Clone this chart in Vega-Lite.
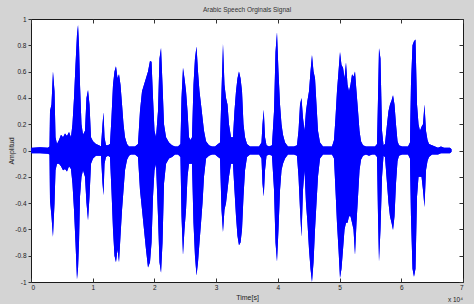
{
  "$schema": "https://vega.github.io/schema/vega-lite/v6.json",
  "width": 432,
  "height": 263,
  "autosize": {"type": "none"},
  "padding": {"left": 31, "top": 19, "right": 11, "bottom": 22},
  "background": "#d4d4d4",
  "title": {"text": "Arabic Speech Orginals Signal", "fontSize": 6.5, "font": "Liberation Sans", "fontWeight": "normal", "color": "#333333", "offset": 3},
  "config": {
    "view": {"fill": "white", "stroke": "#1a1a1a", "strokeWidth": 1},
    "axis": {"domain": false, "grid": false, "labelFont": "Liberation Sans", "labelFontSize": 6.5, "labelColor": "#222222", "tickColor": "#333333", "titleFont": "Liberation Sans", "titleFontSize": 7, "titleFontWeight": "normal", "titleColor": "#222222"}
  },
  "data": {"values": [
    {"t": 0.005, "hi": 0.02, "lo": -0.02},
    {"t": 0.032, "hi": 0.02, "lo": -0.02},
    {"t": 0.146, "hi": 0.025, "lo": -0.02},
    {"t": 0.275, "hi": 0.02, "lo": -0.025},
    {"t": 0.300, "hi": 0.03, "lo": -0.03},
    {"t": 0.308, "hi": 0.3, "lo": -0.38},
    {"t": 0.332, "hi": 0.35, "lo": -0.5},
    {"t": 0.356, "hi": 0.6, "lo": -0.655},
    {"t": 0.381, "hi": 0.45, "lo": -0.4},
    {"t": 0.397, "hi": 0.1, "lo": -0.15},
    {"t": 0.421, "hi": 0.05, "lo": -0.1},
    {"t": 0.454, "hi": 0.08, "lo": -0.1},
    {"t": 0.486, "hi": 0.12, "lo": -0.12},
    {"t": 0.519, "hi": 0.1, "lo": -0.15},
    {"t": 0.551, "hi": 0.13, "lo": -0.14},
    {"t": 0.583, "hi": 0.11, "lo": -0.16},
    {"t": 0.616, "hi": 0.14, "lo": -0.12},
    {"t": 0.648, "hi": 0.1, "lo": -0.14},
    {"t": 0.672, "hi": 0.2, "lo": -0.25},
    {"t": 0.697, "hi": 0.4, "lo": -0.45},
    {"t": 0.721, "hi": 0.65, "lo": -0.7},
    {"t": 0.745, "hi": 0.88, "lo": -0.98},
    {"t": 0.762, "hi": 0.955, "lo": -0.9},
    {"t": 0.778, "hi": 0.8, "lo": -0.7},
    {"t": 0.794, "hi": 0.5, "lo": -0.35},
    {"t": 0.818, "hi": 0.2, "lo": -0.2},
    {"t": 0.843, "hi": 0.12, "lo": -0.15},
    {"t": 0.875, "hi": 0.15, "lo": -0.2},
    {"t": 0.899, "hi": 0.4, "lo": -0.4},
    {"t": 0.924, "hi": 0.46, "lo": -0.53},
    {"t": 0.948, "hi": 0.35, "lo": -0.35},
    {"t": 0.972, "hi": 0.1, "lo": -0.1},
    {"t": 1.005, "hi": 0.07, "lo": -0.06},
    {"t": 1.053, "hi": 0.05, "lo": -0.04},
    {"t": 1.102, "hi": 0.04, "lo": -0.04},
    {"t": 1.134, "hi": 0.03, "lo": -0.04},
    {"t": 1.159, "hi": 0.2, "lo": -0.25},
    {"t": 1.175, "hi": 0.29, "lo": -0.34},
    {"t": 1.191, "hi": 0.1, "lo": -0.1},
    {"t": 1.215, "hi": 0.04, "lo": -0.05},
    {"t": 1.248, "hi": 0.04, "lo": -0.04},
    {"t": 1.280, "hi": 0.05, "lo": -0.05},
    {"t": 1.304, "hi": 0.25, "lo": -0.3},
    {"t": 1.329, "hi": 0.5, "lo": -0.6},
    {"t": 1.353, "hi": 0.6, "lo": -0.8},
    {"t": 1.377, "hi": 0.64, "lo": -0.85},
    {"t": 1.402, "hi": 0.55, "lo": -0.75},
    {"t": 1.426, "hi": 0.58, "lo": -0.85},
    {"t": 1.450, "hi": 0.5, "lo": -0.65},
    {"t": 1.475, "hi": 0.35, "lo": -0.45},
    {"t": 1.499, "hi": 0.2, "lo": -0.3},
    {"t": 1.523, "hi": 0.1, "lo": -0.15},
    {"t": 1.556, "hi": 0.05, "lo": -0.07},
    {"t": 1.588, "hi": 0.03, "lo": -0.04},
    {"t": 1.620, "hi": 0.03, "lo": -0.03},
    {"t": 1.685, "hi": 0.03, "lo": -0.03},
    {"t": 1.734, "hi": 0.05, "lo": -0.05},
    {"t": 1.766, "hi": 0.3, "lo": -0.3},
    {"t": 1.799, "hi": 0.45, "lo": -0.45},
    {"t": 1.831, "hi": 0.5, "lo": -0.6},
    {"t": 1.863, "hi": 0.55, "lo": -0.75},
    {"t": 1.896, "hi": 0.6, "lo": -0.89},
    {"t": 1.928, "hi": 0.68, "lo": -0.85},
    {"t": 1.953, "hi": 0.675, "lo": -0.7},
    {"t": 1.977, "hi": 0.4, "lo": -0.35},
    {"t": 2.001, "hi": 0.15, "lo": -0.15},
    {"t": 2.026, "hi": 0.1, "lo": -0.1},
    {"t": 2.058, "hi": 0.3, "lo": -0.5},
    {"t": 2.082, "hi": 0.7, "lo": -0.85},
    {"t": 2.107, "hi": 0.78, "lo": -0.93},
    {"t": 2.131, "hi": 0.5, "lo": -0.7},
    {"t": 2.155, "hi": 0.2, "lo": -0.25},
    {"t": 2.188, "hi": 0.1, "lo": -0.1},
    {"t": 2.236, "hi": 0.06, "lo": -0.06},
    {"t": 2.285, "hi": 0.04, "lo": -0.05},
    {"t": 2.333, "hi": 0.03, "lo": -0.03},
    {"t": 2.382, "hi": 0.03, "lo": -0.03},
    {"t": 2.422, "hi": 0.05, "lo": -0.05},
    {"t": 2.439, "hi": 0.4, "lo": -0.5},
    {"t": 2.463, "hi": 0.63, "lo": -0.795},
    {"t": 2.487, "hi": 0.55, "lo": -0.6},
    {"t": 2.512, "hi": 0.45, "lo": -0.45},
    {"t": 2.536, "hi": 0.3, "lo": -0.2},
    {"t": 2.560, "hi": 0.1, "lo": -0.1},
    {"t": 2.585, "hi": 0.08, "lo": -0.1},
    {"t": 2.609, "hi": 0.1, "lo": -0.1},
    {"t": 2.633, "hi": 0.5, "lo": -0.55},
    {"t": 2.657, "hi": 0.7, "lo": -0.8},
    {"t": 2.682, "hi": 0.79, "lo": -0.95},
    {"t": 2.706, "hi": 0.6, "lo": -0.85},
    {"t": 2.730, "hi": 0.45, "lo": -0.7},
    {"t": 2.755, "hi": 0.35, "lo": -0.55},
    {"t": 2.779, "hi": 0.25, "lo": -0.4},
    {"t": 2.803, "hi": 0.15, "lo": -0.2},
    {"t": 2.836, "hi": 0.07, "lo": -0.06},
    {"t": 2.884, "hi": 0.04, "lo": -0.04},
    {"t": 2.933, "hi": 0.03, "lo": -0.03},
    {"t": 2.982, "hi": 0.03, "lo": -0.03},
    {"t": 3.030, "hi": 0.05, "lo": -0.05},
    {"t": 3.063, "hi": 0.06, "lo": -0.06},
    {"t": 3.087, "hi": 0.45, "lo": -0.45},
    {"t": 3.111, "hi": 0.81, "lo": -0.62},
    {"t": 3.135, "hi": 0.5, "lo": -0.45},
    {"t": 3.160, "hi": 0.4, "lo": -0.4},
    {"t": 3.184, "hi": 0.35, "lo": -0.3},
    {"t": 3.208, "hi": 0.2, "lo": -0.2},
    {"t": 3.241, "hi": 0.1, "lo": -0.1},
    {"t": 3.273, "hi": 0.1, "lo": -0.1},
    {"t": 3.297, "hi": 0.3, "lo": -0.3},
    {"t": 3.322, "hi": 0.45, "lo": -0.5},
    {"t": 3.346, "hi": 0.55, "lo": -0.65},
    {"t": 3.370, "hi": 0.6, "lo": -0.72},
    {"t": 3.395, "hi": 0.55, "lo": -0.7},
    {"t": 3.419, "hi": 0.45, "lo": -0.6},
    {"t": 3.443, "hi": 0.2, "lo": -0.35},
    {"t": 3.468, "hi": 0.1, "lo": -0.15},
    {"t": 3.500, "hi": 0.05, "lo": -0.05},
    {"t": 3.549, "hi": 0.03, "lo": -0.03},
    {"t": 3.597, "hi": 0.03, "lo": -0.03},
    {"t": 3.646, "hi": 0.03, "lo": -0.03},
    {"t": 3.695, "hi": 0.03, "lo": -0.03},
    {"t": 3.735, "hi": 0.06, "lo": -0.06},
    {"t": 3.751, "hi": 0.2, "lo": -0.25},
    {"t": 3.771, "hi": 0.31, "lo": -0.35},
    {"t": 3.792, "hi": 0.1, "lo": -0.15},
    {"t": 3.816, "hi": 0.04, "lo": -0.04},
    {"t": 3.857, "hi": 0.03, "lo": -0.03},
    {"t": 3.905, "hi": 0.04, "lo": -0.04},
    {"t": 3.938, "hi": 0.3, "lo": -0.3},
    {"t": 3.962, "hi": 0.75, "lo": -0.7},
    {"t": 3.986, "hi": 0.9, "lo": -0.845},
    {"t": 4.010, "hi": 0.6, "lo": -0.6},
    {"t": 4.035, "hi": 0.35, "lo": -0.3},
    {"t": 4.059, "hi": 0.2, "lo": -0.15},
    {"t": 4.083, "hi": 0.12, "lo": -0.1},
    {"t": 4.116, "hi": 0.06, "lo": -0.06},
    {"t": 4.164, "hi": 0.03, "lo": -0.03},
    {"t": 4.213, "hi": 0.03, "lo": -0.03},
    {"t": 4.262, "hi": 0.03, "lo": -0.03},
    {"t": 4.310, "hi": 0.04, "lo": -0.04},
    {"t": 4.335, "hi": 0.15, "lo": -0.2},
    {"t": 4.359, "hi": 0.35, "lo": -0.45},
    {"t": 4.383, "hi": 0.4, "lo": -0.655},
    {"t": 4.407, "hi": 0.25, "lo": -0.3},
    {"t": 4.432, "hi": 0.15, "lo": -0.15},
    {"t": 4.456, "hi": 0.3, "lo": -0.4},
    {"t": 4.480, "hi": 0.38, "lo": -0.55},
    {"t": 4.505, "hi": 0.45, "lo": -0.75},
    {"t": 4.529, "hi": 0.6, "lo": -0.9},
    {"t": 4.553, "hi": 0.726, "lo": -1.0},
    {"t": 4.578, "hi": 0.6, "lo": -0.85},
    {"t": 4.602, "hi": 0.55, "lo": -0.6},
    {"t": 4.626, "hi": 0.35, "lo": -0.4},
    {"t": 4.650, "hi": 0.15, "lo": -0.2},
    {"t": 4.683, "hi": 0.06, "lo": -0.06},
    {"t": 4.732, "hi": 0.03, "lo": -0.03},
    {"t": 4.780, "hi": 0.03, "lo": -0.03},
    {"t": 4.829, "hi": 0.03, "lo": -0.03},
    {"t": 4.877, "hi": 0.03, "lo": -0.03},
    {"t": 4.910, "hi": 0.08, "lo": -0.06},
    {"t": 4.934, "hi": 0.25, "lo": -0.3},
    {"t": 4.958, "hi": 0.45, "lo": -0.55},
    {"t": 4.983, "hi": 0.6, "lo": -0.75},
    {"t": 5.007, "hi": 0.75, "lo": -0.97},
    {"t": 5.031, "hi": 0.65, "lo": -0.9},
    {"t": 5.056, "hi": 0.63, "lo": -0.75},
    {"t": 5.080, "hi": 0.55, "lo": -0.6},
    {"t": 5.104, "hi": 0.67, "lo": -0.55},
    {"t": 5.129, "hi": 0.5, "lo": -0.55},
    {"t": 5.153, "hi": 0.45, "lo": -0.5},
    {"t": 5.177, "hi": 0.5, "lo": -0.5},
    {"t": 5.202, "hi": 0.58, "lo": -0.55},
    {"t": 5.226, "hi": 0.56, "lo": -0.6},
    {"t": 5.250, "hi": 0.6, "lo": -0.795},
    {"t": 5.274, "hi": 0.45, "lo": -0.55},
    {"t": 5.299, "hi": 0.3, "lo": -0.35},
    {"t": 5.323, "hi": 0.15, "lo": -0.15},
    {"t": 5.347, "hi": 0.07, "lo": -0.07},
    {"t": 5.380, "hi": 0.04, "lo": -0.04},
    {"t": 5.428, "hi": 0.03, "lo": -0.03},
    {"t": 5.477, "hi": 0.03, "lo": -0.04},
    {"t": 5.526, "hi": 0.03, "lo": -0.03},
    {"t": 5.574, "hi": 0.03, "lo": -0.03},
    {"t": 5.607, "hi": 0.05, "lo": -0.05},
    {"t": 5.623, "hi": 0.4, "lo": -0.5},
    {"t": 5.639, "hi": 0.777, "lo": -0.845},
    {"t": 5.663, "hi": 0.7, "lo": -0.6},
    {"t": 5.688, "hi": 0.15, "lo": -0.2},
    {"t": 5.712, "hi": 0.04, "lo": -0.04},
    {"t": 5.736, "hi": 0.05, "lo": -0.05},
    {"t": 5.769, "hi": 0.2, "lo": -0.25},
    {"t": 5.793, "hi": 0.3, "lo": -0.4},
    {"t": 5.817, "hi": 0.35, "lo": -0.5},
    {"t": 5.842, "hi": 0.38, "lo": -0.55},
    {"t": 5.866, "hi": 0.42, "lo": -0.605},
    {"t": 5.890, "hi": 0.35, "lo": -0.5},
    {"t": 5.914, "hi": 0.2, "lo": -0.25},
    {"t": 5.939, "hi": 0.07, "lo": -0.08},
    {"t": 5.963, "hi": 0.04, "lo": -0.04},
    {"t": 6.012, "hi": 0.03, "lo": -0.03},
    {"t": 6.060, "hi": 0.03, "lo": -0.03},
    {"t": 6.109, "hi": 0.03, "lo": -0.03},
    {"t": 6.141, "hi": 0.06, "lo": -0.06},
    {"t": 6.157, "hi": 0.5, "lo": -0.5},
    {"t": 6.182, "hi": 0.8, "lo": -0.9},
    {"t": 6.206, "hi": 0.83, "lo": -0.96},
    {"t": 6.230, "hi": 0.845, "lo": -0.9},
    {"t": 6.255, "hi": 0.35, "lo": -0.35},
    {"t": 6.279, "hi": 0.2, "lo": -0.2},
    {"t": 6.303, "hi": 0.15, "lo": -0.2},
    {"t": 6.328, "hi": 0.18, "lo": -0.2},
    {"t": 6.352, "hi": 0.2, "lo": -0.3},
    {"t": 6.376, "hi": 0.35, "lo": -0.43},
    {"t": 6.400, "hi": 0.15, "lo": -0.15},
    {"t": 6.425, "hi": 0.08, "lo": -0.08},
    {"t": 6.449, "hi": 0.05, "lo": -0.05},
    {"t": 6.498, "hi": 0.04, "lo": -0.03},
    {"t": 6.546, "hi": 0.03, "lo": -0.03},
    {"t": 6.595, "hi": 0.02, "lo": -0.03},
    {"t": 6.643, "hi": 0.03, "lo": -0.02},
    {"t": 6.692, "hi": 0.02, "lo": -0.02},
    {"t": 6.741, "hi": 0.02, "lo": -0.02},
    {"t": 6.789, "hi": 0.02, "lo": -0.02},
    {"t": 6.814, "hi": 0.01, "lo": -0.01}
  ]},
  "layer": [
    {
      "mark": {"type": "area", "color": "#0000ff", "interpolate": "linear"},
      "encoding": {
        "x": {"field": "t", "type": "quantitative", "scale": {"domain": [0, 7], "nice": false, "zero": false},
              "axis": {"orient": "bottom", "values": [0, 1, 2, 3, 4, 5, 6, 7], "title": "Time[s]", "tickSize": -4, "labelPadding": 6, "titlePadding": 3}},
        "y": {"field": "hi", "type": "quantitative", "scale": {"domain": [-1, 1], "nice": false, "zero": false},
              "axis": {"orient": "left", "values": [-1, -0.8, -0.6, -0.4, -0.2, 0, 0.2, 0.4, 0.6, 0.8, 1], "labelExpr": "'' + datum.value", "title": "Amplitud", "tickSize": 3, "labelPadding": 2, "titlePadding": 0}},
        "y2": {"field": "lo"}
      }
    },
    {
      "mark": {"type": "area", "color": "#0000ff", "interpolate": "linear"},
      "encoding": {
        "x": {"field": "t", "type": "quantitative", "axis": {"orient": "top", "values": [0, 1, 2, 3, 4, 5, 6, 7], "labels": false, "title": null, "tickSize": -4}},
        "y": {"field": "hi", "type": "quantitative", "axis": {"orient": "right", "values": [-1, -0.8, -0.6, -0.4, -0.2, 0, 0.2, 0.4, 0.6, 0.8, 1], "labels": false, "title": null, "tickSize": -4}},
        "y2": {"field": "lo"}
      }
    },
    {
      "data": {"values": [{}]},
      "mark": {"type": "text", "text": "x 10⁴", "align": "right", "baseline": "middle", "dy": 18, "fontSize": 6.5, "font": "Liberation Sans", "color": "#222222"},
      "encoding": {
        "x": {"datum": 7, "type": "quantitative", "axis": null},
        "y": {"datum": -1, "type": "quantitative", "axis": null}
      }
    }
  ],
  "resolve": {"axis": {"x": "independent", "y": "independent"}}
}
